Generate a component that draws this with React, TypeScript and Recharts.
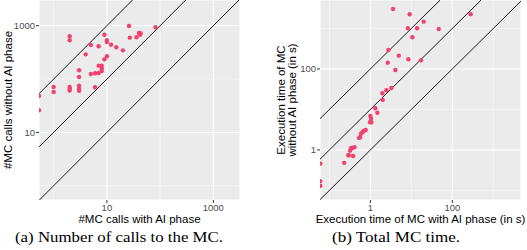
import React from 'react';
import { ScatterChart, Scatter, XAxis, YAxis, CartesianGrid, ReferenceLine } from 'recharts';

// (a) number of calls to the MC (left edge points = 0 calls)
const callsWithAI = [0.53, 0.53, 1, 1, 2, 2, 2, 2, 2, 3, 3, 3, 3, 3, 4, 5, 5, 6, 6, 7, 7, 8, 7, 8, 8, 9, 9, 10, 10, 10, 12, 15, 20, 26, 27, 36, 40, 43, 42, 82];
const callsWithoutAI = [48, 26, 71, 57, 632, 532, 71, 66, 61, 146, 109, 75, 66, 60, 290, 434, 124, 128, 70, 411, 178, 178, 130, 159, 141, 678, 234, 532, 494, 267, 440, 393, 345, 986, 596, 606, 729, 720, 678, 933];

// (b) total MC time in seconds
const timeWithAI = [3.58, 9.1, 20, 281, 8.2, 13.8, 46.6, 10.6, 2.75, 4.93, 8.45, 17.2, 2.66, 4.07, 3.25, 2.46, 1.96, 2.0, 1.32, 1.48, 1.0, 1.04, 0.98, 1.06, 0.77, 0.69, 0.64, 0.59, 0.56, 0.53, 0.41, 0.37, 0.34, 0.32, 0.3, 0.29, 0.38, 0.23, 0.06, 0.06, 0.06];
const timeWithoutAI = [3030, 2243, 1473, 2243, 1011, 1011, 972, 607, 294, 213, 174, 164, 143, 94.4, 34, 29.8, 25.1, 17.2, 10.7, 8.3, 6.9, 5.93, 4.83, 4.83, 3.12, 2.94, 2.74, 2.52, 2.06, 1.98, 1.17, 1.12, 1.12, 0.96, 0.74, 0.74, 0.71, 0.48, 0.46, 0.17, 0.13];

const callsTicks = [10, 1000];
const callsMinor = [1, 100];
const timeTicks = [1, 100];
const timeMinor = [0.1, 10, 1000];

// y = k * x reference diagonals
const ratios = [1, 10, 100];

const SANS = '"Liberation Sans", Arial, sans-serif';
const SERIF = '"Liberation Serif", "DejaVu Serif", serif';
const POINT = '#F2426C';

type PanelProps = {
  xs: number[];
  ys: number[];
  xDomain: [number, number];
  yDomain: [number, number];
  ticks: number[];
  minor: number[];
  xTitle: string;
  yTitle: string[];
  width: number;
  yAxisWidth: number;
  right: number;
};

const Panel: React.FC<PanelProps> = ({ xs, ys, xDomain, yDomain, ticks, minor, xTitle, yTitle, width, yAxisWidth, right }) => {
  const data = xs.map((x, i) => ({ x, y: ys[i] }));
  const tickStyle = { fill: '#4d4d4d', fontSize: 9.5, fontFamily: SANS };

  const renderX = (p: any) => {
    const { x, y, width: w } = p.viewBox;
    return (
      <text x={x + w / 2} y={y + 22.5} textAnchor="middle" fontSize={11.5} fontFamily={SANS} fill="#000">
        {xTitle}
      </text>
    );
  };

  const renderY = (p: any) => {
    const { y, height } = p.viewBox;
    const cy = y + height / 2;
    const base = yTitle.length > 1 ? 25 : 11.5;
    return (
      <g>
        {yTitle.map((t, i) => {
          const cx = base + i * 10.5;
          return (
            <text key={i} x={cx} y={cy} textAnchor="middle" fontSize={11.5} fontFamily={SANS} fill="#000" transform={`rotate(-90 ${cx} ${cy})`}>
              {t}
            </text>
          );
        })}
      </g>
    );
  };

  return (
    <ScatterChart width={width} height={225} margin={{ top: 0, right, bottom: 0, left: 0 }}>
      <CartesianGrid stroke="#fff" strokeWidth={1} fill="#EBEBEB" fillOpacity={1} />
      {minor.map(v => (
        <ReferenceLine key={'mx' + v} x={v} stroke="#fff" strokeWidth={0.5} />
      ))}
      {minor.map(v => (
        <ReferenceLine key={'my' + v} y={v} stroke="#fff" strokeWidth={0.5} />
      ))}
      {ratios.map(k => {
        const x0 = Math.max(xDomain[0], yDomain[0] / k);
        const x1 = Math.min(xDomain[1], yDomain[1] / k);
        return (
          <ReferenceLine
            key={'d' + k}
            segment={[{ x: x0, y: x0 * k }, { x: x1, y: x1 * k }]}
            stroke="#1a1a1a"
            strokeWidth={1}
          />
        );
      })}
      <XAxis
        type="number"
        dataKey="x"
        scale="log"
        domain={xDomain}
        allowDataOverflow
        ticks={ticks}
        tick={tickStyle}
        tickLine={{ stroke: '#333' }}
        tickSize={3}
        tickMargin={1}
        axisLine={false}
        height={25}
        label={renderX}
      />
      <YAxis
        type="number"
        dataKey="y"
        scale="log"
        domain={yDomain}
        allowDataOverflow
        ticks={ticks}
        tick={tickStyle}
        tickLine={{ stroke: '#333' }}
        tickSize={3}
        tickMargin={1}
        axisLine={false}
        width={yAxisWidth}
        label={renderY}
      />
      <Scatter
        data={data}
        isAnimationActive={false}
        shape={(p: any) => <circle cx={p.cx} cy={p.cy} r={2.2} fill={POINT} />}
      />
    </ScatterChart>
  );
};

export default function App() {
  return (
    <div style={{ position: 'absolute', left: 0, top: 0, width: 527, height: 250, background: '#fff' }}>
      <div style={{ position: 'absolute', left: 0, top: 0 }}>
        <Panel
          xs={callsWithAI}
          ys={callsWithoutAI}
          xDomain={[0.53, 3170]}
          yDomain={[0.54, 3030]}
          ticks={callsTicks}
          minor={callsMinor}
          xTitle="#MC calls with AI phase"
          yTitle={['#MC calls without AI phase']}
          width={260}
          yAxisWidth={39}
          right={20}
        />
      </div>
      <div style={{ position: 'absolute', left: 260, top: 0 }}>
        <Panel
          xs={timeWithAI}
          ys={timeWithoutAI}
          xDomain={[0.059, 4740]}
          yDomain={[0.058, 5050]}
          ticks={timeTicks}
          minor={timeMinor}
          xTitle="Execution time of MC with AI phase (in s)"
          yTitle={['Execution time of MC', 'without AI phase (in s)']}
          width={267}
          yAxisWidth={60}
          right={6}
        />
      </div>
      <svg width={527} height={250} style={{ position: 'absolute', left: 0, top: 0, pointerEvents: 'none' }}>
        <text x={15} y={242} fontSize={15.5} fontFamily={SERIF} textLength={208} lengthAdjust="spacingAndGlyphs">
          (a) Number of calls to the MC.
        </text>
        <text x={332} y={242} fontSize={15.5} fontFamily={SERIF} textLength={128} lengthAdjust="spacingAndGlyphs">
          (b) Total MC time.
        </text>
      </svg>
    </div>
  );
}
